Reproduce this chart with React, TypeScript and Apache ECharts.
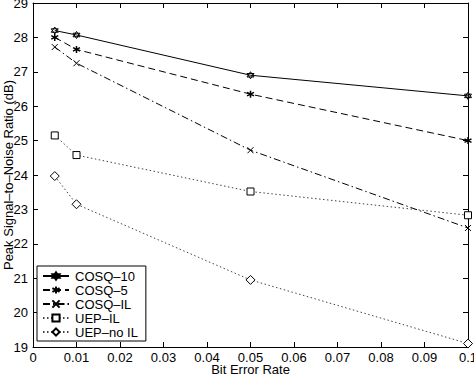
import React, { useEffect, useRef } from "react";
import * as echarts from "echarts";

const berValues = [0.005, 0.01, 0.05, 0.1];
const seriesNames = ["COSQ–10", "COSQ–5", "COSQ–IL", "UEP–IL", "UEP–no IL"];
const cosq10 = [28.2, 28.07, 26.9, 26.3];
const cosq5 = [28.0, 27.65, 26.35, 25.0];
const cosqIL = [27.72, 27.25, 24.72, 22.46];
const uepIL = [25.15, 24.58, 23.52, 22.83];
const uepNoIL = [23.97, 23.15, 20.95, 19.1];
const xTickLabels = ["0", "0.01", "0.02", "0.03", "0.04", "0.05", "0.06", "0.07", "0.08", "0.09", "0.1"];

const FONT = "'Liberation Sans', Arial, Helvetica, sans-serif";

const hexagram = "path://M0,-10L8.66,5L-8.66,5Z M0,10L8.66,-5L-8.66,-5Z";
const asterisk = "path://M0,-10L0,10M-8.66,-5L8.66,5M-8.66,5L8.66,-5";
const cross = "path://M-10,-10L10,10M-10,10L10,-10";

export default function App() {
  const ref = useRef<HTMLDivElement>(null);
  useEffect(() => {
    if (!ref.current) return;
    const chart = echarts.init(ref.current, null, { renderer: "svg" });
    const mk = (name: string, vals: number[], symbol: string, size: number, dash: any, lineColor: string, bw: number) => ({
      name,
      type: "line",
      data: berValues.map((x, i) => [x, vals[i]]),
      symbol,
      symbolSize: size,
      showSymbol: true,
      lineStyle: { color: lineColor, width: 1, type: dash },
      itemStyle: { color: "#fff", borderColor: "#000", borderWidth: bw },
      emphasis: { disabled: true },
      z: 3,
    });
    const tickStyle = { show: true, inside: true, length: 5, lineStyle: { color: "#000", width: 1 } };
    chart.setOption({
      animation: false,
      textStyle: { fontFamily: FONT },
      grid: { left: 33, right: 6, top: 3, bottom: 28, containLabel: false, outerBoundsMode: "none" },
      xAxis: [
        {
          type: "value",
          min: 0,
          max: 0.1,
          interval: 0.01,
          position: "bottom",
          axisLine: { show: true, onZero: false, lineStyle: { color: "#000", width: 1 } },
          axisTick: tickStyle,
          splitLine: { show: false },
          axisLabel: {
            color: "#000",
            fontSize: 13,
            lineHeight: 13,
            fontFamily: FONT,
            margin: 4,
            formatter: (v: number) => xTickLabels[Math.round(v * 100)] ?? "",
          },
          name: "Bit Error Rate",
          nameLocation: "middle",
          nameGap: 17,
          nameMoveOverlap: false,
          nameTextStyle: { color: "#000", fontSize: 13, lineHeight: 11, fontFamily: FONT },
        },
        {
          type: "value",
          min: 0,
          max: 0.1,
          interval: 0.01,
          position: "top",
          axisLine: { show: true, onZero: false, lineStyle: { color: "#000", width: 1 } },
          axisTick: tickStyle,
          splitLine: { show: false },
          axisLabel: { show: false },
        },
      ],
      yAxis: [
        {
          type: "value",
          min: 19,
          max: 29,
          interval: 1,
          position: "left",
          axisLine: { show: true, onZero: false, lineStyle: { color: "#000", width: 1 } },
          axisTick: tickStyle,
          splitLine: { show: false },
          axisLabel: { color: "#000", fontSize: 13, fontFamily: FONT, margin: 5 },
          name: "Peak Signal–to–Noise Ratio (dB)",
          nameLocation: "middle",
          nameGap: 18,
          nameMoveOverlap: false,
          nameTextStyle: { color: "#000", fontSize: 13, fontFamily: FONT },
        },
        {
          type: "value",
          min: 19,
          max: 29,
          interval: 1,
          position: "right",
          axisLine: { show: true, onZero: false, lineStyle: { color: "#000", width: 1 } },
          axisTick: tickStyle,
          splitLine: { show: false },
          axisLabel: { show: false },
        },
      ],
      legend: {
        show: true,
        orient: "vertical",
        left: 37,
        top: 266,
        width: 105,
        padding: [3, 8, 2, 5],
        itemGap: 0,
        itemWidth: 26,
        itemHeight: 9,
        backgroundColor: "#fff",
        borderColor: "#000",
        borderWidth: 1,
        borderRadius: 0,
        textStyle: { color: "#000", fontSize: 13, lineHeight: 14, fontFamily: FONT, padding: [0, 0, 0, 1] },
        data: seriesNames,
      },
      series: [
        mk(seriesNames[0], cosq10, hexagram, 7, "solid", "#000", 1),
        mk(seriesNames[1], cosq5, asterisk, 7, [7, 4], "#000", 1.5),
        mk(seriesNames[2], cosqIL, cross, 6, [7, 3, 1.5, 3], "#000", 1),
        mk(seriesNames[3], uepIL, "rect", 7, [1.5, 2.5], "#444", 1),
        mk(seriesNames[4], uepNoIL, "path://M0,-10L7,0L0,10L-7,0Z", 9, [1.5, 2.5], "#444", 1),
      ],
    });
    return () => chart.dispose();
  }, []);
  return <div ref={ref} style={{ width: 474, height: 375, position: "absolute", left: 0, top: 0 }} />;
}
